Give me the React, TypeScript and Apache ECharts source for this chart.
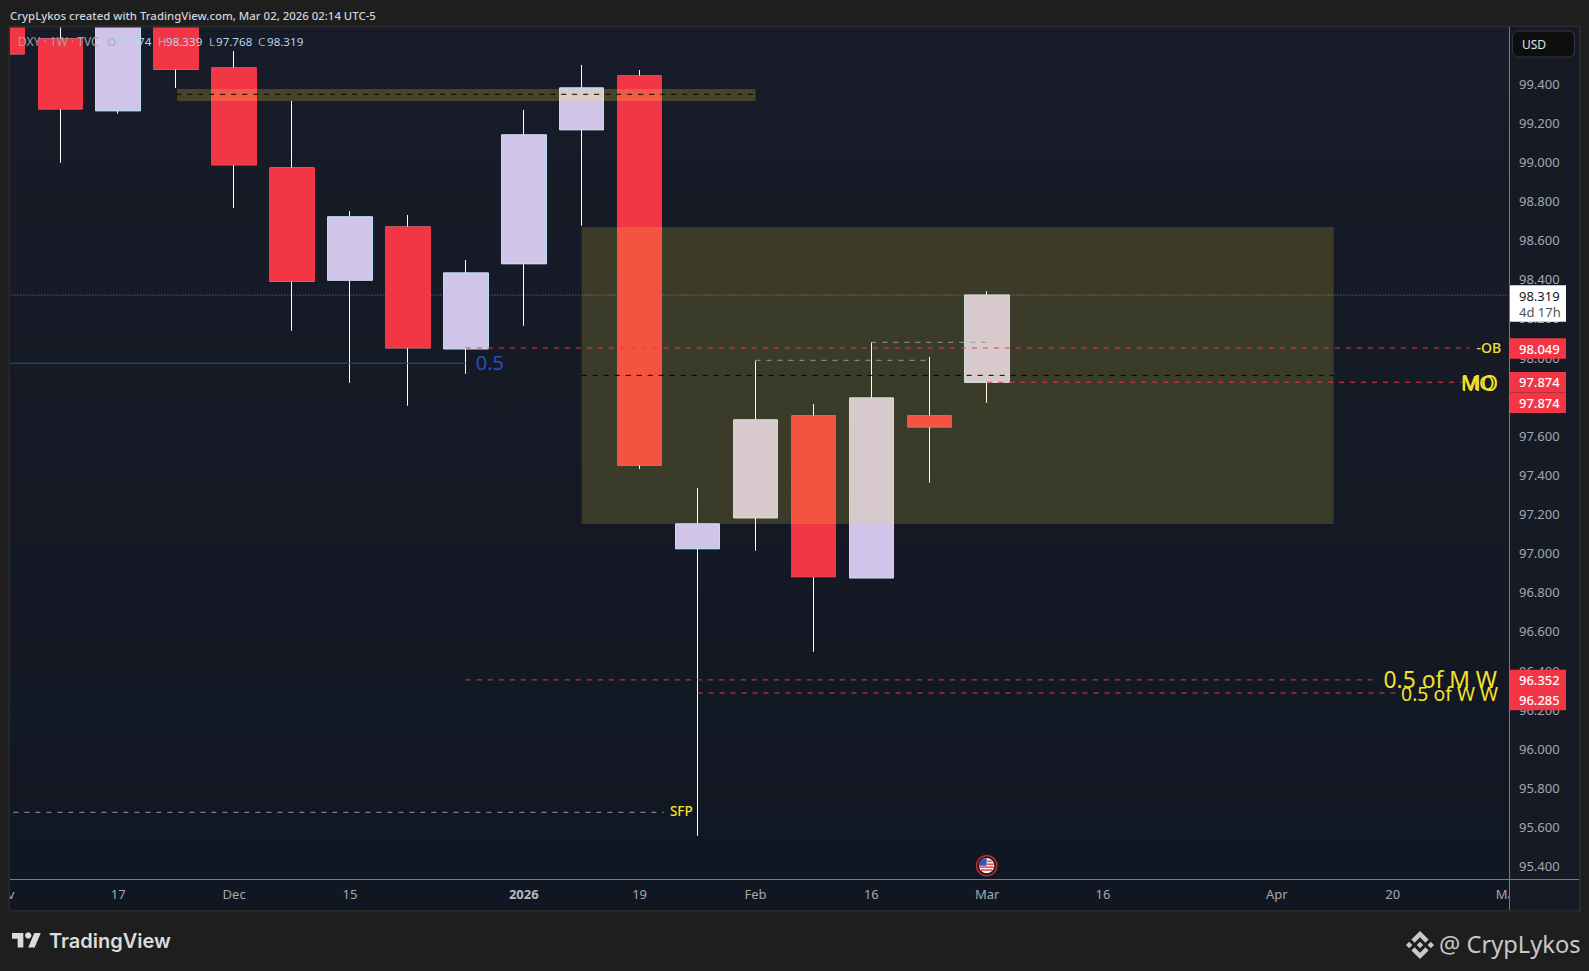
import React, { useEffect, useRef } from "react";
import * as echarts from "echarts";

// ---------- data ----------
const candleWeeks = [0, 1, 2, 3, 4, 5, 6, 7, 8, 9, 10, 11, 12, 13, 14, 15, 16, 17];
const opens = [99.9, 99.629, 99.262, 99.75, 99.48, 98.969, 98.396, 98.667, 98.045, 98.48, 99.165, 99.439, 97.023, 97.181, 97.701, 96.874, 97.701, 97.874];
const closes = [99.553, 99.272, 99.7, 99.475, 98.986, 98.391, 98.719, 98.05, 98.432, 99.138, 99.378, 97.451, 97.149, 97.681, 96.88, 97.793, 97.646, 98.319];
const lows = [99.553, 98.996, 99.247, 99.378, 98.765, 98.137, 97.871, 97.754, 97.917, 98.163, 98.674, 97.43, 95.555, 97.012, 96.496, 96.874, 97.36, 97.768];
const highs = [100.0, 99.75, 99.8, 99.85, 99.567, 99.312, 98.749, 98.729, 98.499, 99.266, 99.496, 99.47, 97.333, 97.984, 97.762, 98.078, 98.003, 98.339];

const priceTicks = [95.4, 95.6, 95.8, 96, 96.2, 96.4, 96.6, 96.8, 97, 97.2, 97.4, 97.6, 97.8, 98, 98.2, 98.4, 98.6, 98.8, 99, 99.2, 99.4];
const timeTickWeeks = [0, 2, 4, 6, 9, 11, 13, 15, 17, 19, 22, 24, 26];
const timeTickLabels = ["Nov", "17", "Dec", "15", "2026", "19", "Feb", "16", "Mar", "16", "Apr", "20", "May"];

const topBand = [3.014, 13, 99.373, 99.312];
const orderBlock = [10, 22.98, 98.667, 97.149];

const lastPrice = 98.319;
const blueLine = [0, 8, 97.971];
const blackLines = [[3, 13, 99.346], [10, 22.98, 97.909]];
const greyLines = [[13, 16, 97.986], [15, 17, 98.078], [0, 11.42, 95.675]];
const redLines = [[8, 25.33, 98.049], [17, 25.2, 97.874], [8, 23.65, 96.352], [12, 24.05, 96.285]];

const noteTexts = ["0.5", "-OB", "MO", "MO", "0.5 of M W", "0.5 of W W", "SFP"];
const noteWeeks = [8, 26, 26, 26, 26, 26, 11.42];
const notePrices = [97.971, 98.049, 97.874, 97.874, 96.352, 96.285, 95.675];

const tagPrices = [98.319, 98.049, 97.874, 97.874, 96.352, 96.285];

const legendTitle = "DXY · 1W · TVC";
const legendKeys = ["O", "H", "L", "C"];
const legendValues = ["97.874", "98.339", "97.768", "98.319"];

// ---------- styles and layout ----------
const FONT = "'Noto Sans', sans-serif";
const RED = "#f23645";
const YELLOW = "#f5e12d";
const noteStyle = [
  { fill: "#2350bd", size: 20, weight: 400, dx: 10, dy: -1, align: "left" },
  { fill: YELLOW, size: 14, weight: 500, dx: -7.5, dy: 0, align: "right" },
  { fill: YELLOW, size: 22, weight: 400, dx: -10.5, dy: 0, align: "right" },
  { fill: YELLOW, size: 20, weight: 400, dx: -14, dy: 0, align: "right" },
  { fill: YELLOW, size: 22.8, weight: 400, dx: -11.5, dy: 0, align: "right" },
  { fill: YELLOW, size: 19.4, weight: 400, dx: -10.5, dy: 0, align: "right" },
  { fill: YELLOW, size: 13.5, weight: 500, dx: 6, dy: -1, align: "left" },
];
const tagShift = [0, 0.5, 0, 20.5, 0, 7];

const makeLine = (name: string, seg: number[], color: string, dash: any, z: number) => ({
  type: "line",
  name,
  z,
  silent: true,
  showSymbol: false,
  symbol: "none",
  data: [[seg[0], seg[2]], [seg[1], seg[2]]],
  lineStyle: { color, width: 1, type: dash },
});

function buildOption() {
  const ohlc = candleWeeks.map((w, i) => [w, opens[i], closes[i], lows[i], highs[i]]);
  const bodies = candleWeeks.map((w, i) => [
    w, opens[i], closes[i], Math.min(opens[i], closes[i]), Math.max(opens[i], closes[i]),
  ]);

  const renderBox = (alpha: number) => (_: any, api: any) => {
    const a = api.coord([api.value(0), api.value(2)]);
    const b = api.coord([api.value(1), api.value(3)]);
    return {
      type: "rect",
      shape: { x: a[0], y: a[1], width: b[0] - a[0], height: b[1] - a[1] },
      style: { fill: `rgba(255,235,59,${alpha})` },
    };
  };

  const series: any[] = [
    makeLine("Last price", [0, 26, lastPrice], "#787b86", [1, 2], 1),
    {
      type: "candlestick",
      name: "DXY wicks",
      layout: "horizontal",
      z: 2,
      barWidth: 45,
      silent: true,
      data: ohlc,
      itemStyle: { color: "#d1c4e9", color0: RED, borderColor: "#ffffff", borderColor0: "#ffffff", borderWidth: 1 },
    },
    {
      type: "candlestick",
      name: "DXY",
      layout: "horizontal",
      z: 2,
      barWidth: 45,
      silent: true,
      data: bodies,
      itemStyle: { color: "#d1c4e9", color0: RED, borderColor: "#b7e0f5", borderColor0: RED, borderWidth: 1 },
    },
    { type: "custom", name: "Top band", z: 3, silent: true, data: [topBand], renderItem: renderBox(0.2), clip: true },
    { type: "custom", name: "Order block", z: 3, silent: true, data: [orderBlock], renderItem: renderBox(0.16), clip: true },
    makeLine("Blue level", blueLine, "#2350b0", "solid", 4),
    ...blackLines.map((s, i) => makeLine("Black " + i, s, "#000000", [5, 6], 4)),
    ...greyLines.map((s, i) => makeLine("Grey " + i, s, "#9598a1", [5, 6], 4)),
    ...redLines.map((s, i) => makeLine("Red " + i, s, RED, [5, 6], 4)),
    {
      type: "custom",
      name: "Notes",
      z: 4,
      silent: true,
      data: noteWeeks.map((w, i) => [w, notePrices[i]]),
      renderItem: (params: any, api: any) => {
        const i = params.dataIndex;
        const p = api.coord([api.value(0), api.value(1)]);
        const s = noteStyle[i];
        return {
          type: "text",
          x: p[0] + s.dx,
          y: p[1] + s.dy,
          style: {
            text: noteTexts[i],
            fill: s.fill,
            font: `${s.weight} ${s.size}px ${FONT}`,
            align: s.align,
            verticalAlign: "middle",
          },
        };
      },
    },
    {
      type: "custom",
      name: "Price tags",
      z: 8,
      silent: true,
      clip: false,
      data: tagPrices.map((p) => [26, p]),
      renderItem: (params: any, api: any) => {
        const i = params.dataIndex;
        const y = api.coord([api.value(0), api.value(1)])[1] + tagShift[i];
        const isLast = i === 0;
        const children: any[] = [
          {
            type: "rect",
            shape: { x: 1510, y: isLast ? y - 10 : y - 10.2, width: 56, height: isLast ? 36.7 : 20.4 },
            style: { fill: isLast ? "#ffffff" : RED },
          },
          {
            type: "text",
            x: 1519,
            y: isLast ? y + 1 : y + 0.2,
            style: {
              text: api.value(1).toFixed(3),
              fill: isLast ? "#131722" : "#ffffff",
              font: `${isLast ? 400 : 500} 13px ${FONT}`,
              align: "left",
              verticalAlign: "middle",
            },
          },
        ];
        if (isLast) {
          children.push({
            type: "text",
            x: 1519,
            y: y + 16.6,
            style: { text: "4d 17h", fill: "#50535e", font: `13px ${FONT}`, align: "left", verticalAlign: "middle" },
          });
        }
        return { type: "group", children };
      },
    },
  ];

  const cx = 986.7;
  const cy = 865.7;
  const stripes = [
    [0.5, -5.2, 4.6],
    [0.5, -2.3, 6.6],
    [-7, 0.6, 14],
    [-5.6, 3.5, 11.2],
  ];
  const graphic: any[] = [
    {
      type: "rect", z: 0, silent: true,
      shape: { x: 10, y: 27, width: 1569, height: 883 },
      style: {
        fill: new echarts.graphic.LinearGradient(0, 0, 0, 1, [
          { offset: 0, color: "#181c28" },
          { offset: 1, color: "#111722" },
        ]),
      },
    },
    // covers that crop the time axis and the candles at the panel edges
    { type: "rect", z: 6, silent: true, shape: { x: 0, y: 0, width: 10, height: 971 }, style: { fill: "#1e1e1e" } },
    { type: "rect", z: 6, silent: true, shape: { x: 0, y: 0, width: 1589, height: 27 }, style: { fill: "#1e1e1e" } },
    { type: "rect", z: 6, silent: true, shape: { x: 8, y: 25.5, width: 1573, height: 2 }, style: { fill: "#2a2a2a" } },
    { type: "rect", z: 6, silent: true, shape: { x: 8.5, y: 27, width: 1.5, height: 884 }, style: { fill: "#2a2a2a" } },
    { type: "rect", z: 6, silent: true, shape: { x: 1510, y: 27, width: 69, height: 883 }, style: { fill: "#151a25" } },
    { type: "rect", z: 6, silent: true, shape: { x: 1579, y: 25.5, width: 2, height: 886 }, style: { fill: "#2a2a2a" } },
    { type: "rect", z: 6, silent: true, shape: { x: 8, y: 910, width: 1573, height: 1.5 }, style: { fill: "#2a2a2a" } },
    { type: "line", z: 8, silent: true, shape: { x1: 10, y1: 879.5, x2: 1579, y2: 879.5 }, style: { stroke: "#787b86", lineWidth: 1 } },
    { type: "line", z: 8, silent: true, shape: { x1: 1509.5, y1: 27, x2: 1509.5, y2: 910 }, style: { stroke: "#787b86", lineWidth: 1 } },

    // header
    {
      type: "text", z: 9, x: 10, y: 15,
      style: { text: "CrypLykos created with TradingView.com, Mar 02, 2026 02:14 UTC-5", fill: "#d1d4dc", font: `500 11.4px ${FONT}`, align: "left", verticalAlign: "middle" },
    },
    // legend
    { type: "text", z: 9, x: 18, y: 41.5, style: { text: legendTitle, fill: "#a0a3ab", font: `12px ${FONT}`, verticalAlign: "middle", align: "left" } },
    ...legendKeys.flatMap((k, i) => {
      const kx = [107, 158, 209, 258][i];
      const vx = [115, 166, 216, 267][i];
      return [
        { type: "text", z: 9, x: kx, y: 41.5, style: { text: k, fill: "#a8abb3", font: `11.6px ${FONT}`, verticalAlign: "middle", align: "left" } },
        { type: "text", z: 9, x: vx, y: 41.5, style: { text: legendValues[i], fill: "#b4d6ec", font: `11.6px ${FONT}`, verticalAlign: "middle", align: "left" } },
      ];
    }),

    // currency button
    {
      type: "rect", z: 9, silent: true,
      shape: { x: 1512.5, y: 31, width: 62, height: 26, r: 6 },
      style: { fill: "#0e0e0e", stroke: "#33363f", lineWidth: 1 },
    },
    { type: "text", z: 9, x: 1522, y: 44, style: { text: "USD", fill: "#e0e3eb", font: `12px ${FONT}`, align: "left", verticalAlign: "middle" } },

    // event marker
    { type: "circle", z: 9, silent: true, shape: { cx, cy, r: 10 }, style: { fill: "#131722", stroke: "#c9252f", lineWidth: 1.6 } },
    { type: "circle", z: 9, silent: true, shape: { cx, cy, r: 7.6 }, style: { fill: "#f2f2f2" } },
    ...stripes.map((s) => ({
      type: "rect", z: 9, silent: true,
      shape: { x: cx + s[0], y: cy + s[1], width: s[2], height: 1.6 },
      style: { fill: "#ea4b4b" },
    })),
    {
      type: "sector", z: 9, silent: true,
      shape: { cx, cy, r: 7.6, r0: 0, startAngle: Math.PI, endAngle: Math.PI * 1.5 },
      style: { fill: "#3557b7" },
    },

    // footer
    { type: "tvlogo", z: 9, silent: true, x: 12, y: 929.8, scaleX: 0.81, scaleY: 0.81, style: { fill: "#dddbdb" } },
    { type: "circle", z: 9, silent: true, shape: { cx: 28.2, cy: 935.5, r: 3.2 }, style: { fill: "#dddbdb" } },
    { type: "text", z: 9, x: 49, y: 941, style: { text: "TradingView", fill: "#dddbdb", font: `600 20px Inter, ${FONT}`, align: "left", verticalAlign: "middle" } },
    { type: "bnblogo", z: 9, silent: true, x: 1406, y: 931, scaleX: 0.221, scaleY: 0.221, style: { fill: "#c9c9c9" } },
    { type: "text", z: 9, x: 1439, y: 944, style: { text: "@ CrypLykos", fill: "#c9c9c9", font: `23.7px ${FONT}`, align: "left", verticalAlign: "middle" } },
  ];

  return {
    animation: false,
    backgroundColor: "#1e1e1e",
    textStyle: { fontFamily: FONT },
    tooltip: { show: false },
    legend: { show: false },
    grid: { left: -30, top: 27, width: 1560, height: 853, containLabel: false, outerBoundsMode: "none" },
    xAxis: {
      type: "value",
      z: 5,
      min: -0.559,
      max: 26.37,
      scale: true,
      splitLine: { show: false },
      axisLine: { show: false },
      axisTick: { show: false },
      axisLabel: {
        customValues: timeTickWeeks,
        margin: 7,
        color: "#a4a7af",
        fontSize: 13,
        fontFamily: FONT,
        hideOverlap: false,
        formatter: (v: number) => {
          const t = timeTickLabels[timeTickWeeks.indexOf(v)];
          return t === "2026" ? `{b|${t}}` : t;
        },
        rich: { b: { fontWeight: 700, fontSize: 13, color: "#b6b9c1", fontFamily: FONT } },
      },
    },
    yAxis: {
      type: "value",
      position: "right",
      offset: -20.5,
      z: 7,
      min: 95.329,
      max: 99.69,
      scale: true,
      splitLine: { show: false },
      axisLine: { show: false },
      axisTick: { show: false },
      axisLabel: {
        customValues: priceTicks,
        margin: 9.5,
        color: "#a4a7af",
        fontSize: 13,
        fontFamily: FONT,
        hideOverlap: false,
        formatter: (v: number) => v.toFixed(3),
      },
    },
    series,
    graphic: { elements: graphic },
  };
}

echarts.graphic.registerShape(
  "tvlogo",
  echarts.graphic.extendPath("M14 22H7V11H0V4h14v18zM28 22h-8l7.5-18h8L28 22z", {}) as any,
);
echarts.graphic.registerShape(
  "bnblogo",
  echarts.graphic.extendPath(
    "M38.73 53.2l24.59-24.58 24.6 24.6 14.3-14.31L63.32 0 24.42 38.9zM0 63.31l14.3-14.31 14.31 14.31-14.31 14.3zM38.73 73.41l24.59 24.59 24.6-24.6 14.31 14.29-38.9 38.91-38.91-38.88-.02-.02zM98 63.31l14.3-14.31 14.31 14.3-14.31 14.32zM77.83 63.3L63.32 48.78 52.59 59.51l-1.24 1.23-2.54 2.54 14.51 14.5 14.51-14.47z",
    {},
  ) as any,
);

export default function App() {
  const ref = useRef<HTMLDivElement>(null);
  useEffect(() => {
    document.body.style.margin = "0";
    const chart = echarts.init(ref.current!, undefined, { renderer: "svg", width: 1589, height: 971 });
    chart.setOption(buildOption() as any);
    return () => chart.dispose();
  }, []);
  return <div ref={ref} style={{ position: "absolute", left: 0, top: 0, width: 1589, height: 971 }} />;
}
